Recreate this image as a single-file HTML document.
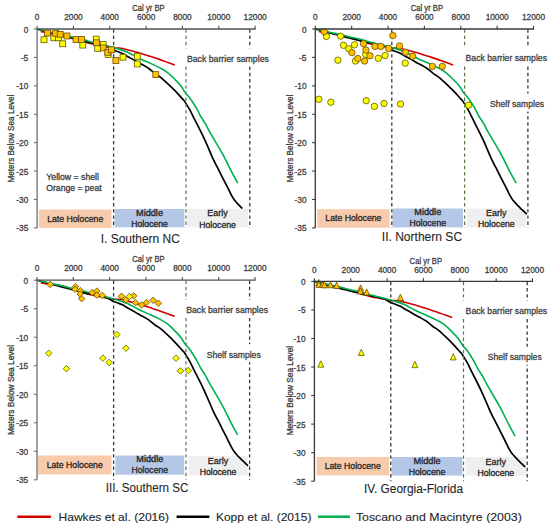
<!DOCTYPE html><html><head><meta charset="utf-8"><style>html,body{margin:0;padding:0;background:#fff;}svg{display:block;}text{font-family:"Liberation Sans", sans-serif;}</style></head><body>
<svg width="550" height="529" viewBox="0 0 550 529">
<rect width="550" height="529" fill="#fff"/>
<rect x="38.90" y="209.50" width="72.60" height="18.50" fill="#f8cbad"/>
<rect x="114.60" y="209.00" width="69.80" height="18.30" fill="#b4c7e7"/>
<rect x="187.20" y="208.80" width="60.80" height="18.50" fill="#efefef"/>
<path d="M40.73,31.56 C42.25,31.79 46.37,32.48 49.82,32.98 C53.26,33.48 57.76,33.81 61.39,34.57 C65.02,35.33 68.53,36.61 71.62,37.52 C74.70,38.44 77.71,39.35 79.88,40.08 C82.06,40.81 82.36,41.20 84.68,41.90 C86.99,42.60 90.75,43.62 93.78,44.29 C96.81,44.95 100.21,45.35 102.86,45.88 C105.51,46.41 108.22,47.13 109.68,47.47 C111.13,47.81 110.66,47.84 111.58,47.92 C112.51,48.01 114.10,47.97 115.22,47.98 C116.34,47.99 117.06,47.90 118.31,47.98 C119.55,48.06 121.21,48.15 122.66,48.44 C124.12,48.72 125.39,49.25 127.03,49.69 C128.66,50.12 130.66,50.57 132.47,51.05 C134.29,51.53 136.26,52.09 137.93,52.58 C139.59,53.08 140.50,53.39 142.47,54.00 C144.43,54.62 147.01,55.43 149.73,56.28 C152.46,57.13 155.79,58.08 158.82,59.12 C161.84,60.16 165.24,61.54 167.90,62.53 C170.56,63.51 173.65,64.61 174.80,65.03" fill="none" stroke="#d40000" stroke-width="1.6" stroke-linejoin="round"/>
<path d="M37.10,29.00 C39.22,29.57 45.72,31.30 49.82,32.41 C53.91,33.52 58.19,34.72 61.68,35.65 C65.17,36.58 67.75,37.21 70.78,37.98 C73.81,38.75 76.41,39.41 79.88,40.25 C83.35,41.10 87.83,42.19 91.60,43.04 C95.37,43.88 99.78,44.69 102.50,45.31 C105.22,45.93 106.59,46.18 107.95,46.73 C109.31,47.28 109.74,48.04 110.68,48.61 C111.61,49.17 112.32,49.62 113.56,50.14 C114.81,50.66 116.67,51.16 118.16,51.73 C119.65,52.30 121.01,52.81 122.48,53.55 C123.96,54.29 125.36,55.24 127.03,56.16 C128.69,57.09 130.66,58.08 132.47,59.12 C134.29,60.16 136.26,61.47 137.93,62.42 C139.59,63.36 140.65,63.79 142.47,64.80 C144.28,65.82 146.71,67.03 148.82,68.50 C150.94,69.96 153.22,72.14 155.18,73.61 C157.15,75.08 158.51,75.60 160.63,77.30 C162.75,79.01 165.48,81.57 167.90,83.84 C170.32,86.11 172.74,88.43 175.17,90.94 C177.59,93.45 180.92,97.24 182.43,98.90 C183.95,100.56 183.04,99.09 184.25,100.89 C185.46,102.69 187.88,106.43 189.70,109.70 C191.52,112.96 192.73,115.66 195.15,120.49 C197.57,125.32 201.21,132.19 204.23,138.68 C207.26,145.17 211.05,154.50 213.32,159.42 C215.59,164.35 216.34,165.25 217.86,168.23 C219.37,171.21 220.89,174.34 222.40,177.32 C223.91,180.31 225.49,183.24 226.94,186.13 C228.39,189.02 229.91,192.38 231.12,194.66 C232.33,196.93 233.24,198.40 234.21,199.77 C235.18,201.14 236.03,201.88 236.93,202.90 C237.84,203.91 238.76,204.92 239.66,205.85 C240.55,206.79 241.87,208.06 242.31,208.51" fill="none" stroke="#000" stroke-width="1.7" stroke-linejoin="round"/>
<path d="M37.10,29.00 C39.22,29.49 45.72,31.03 49.82,31.96 C53.91,32.88 58.19,33.75 61.68,34.57 C65.17,35.38 67.75,36.13 70.78,36.84 C73.81,37.55 77.02,38.15 79.88,38.83 C82.75,39.51 85.65,40.30 87.97,40.93 C90.28,41.57 92.16,42.18 93.78,42.64 C95.40,43.09 96.17,43.30 97.69,43.66 C99.20,44.02 101.35,44.45 102.86,44.80 C104.38,45.15 104.92,45.27 106.77,45.76 C108.62,46.26 111.63,47.11 113.94,47.75 C116.26,48.40 118.49,48.91 120.67,49.63 C122.85,50.35 125.06,51.20 127.03,52.07 C128.99,52.94 130.66,53.92 132.47,54.86 C134.29,55.79 136.26,56.85 137.93,57.70 C139.59,58.55 140.35,59.02 142.47,59.97 C144.59,60.92 147.61,62.01 150.64,63.38 C153.67,64.75 157.76,66.65 160.63,68.21 C163.51,69.77 165.48,70.84 167.90,72.76 C170.32,74.67 173.05,77.56 175.17,79.69 C177.29,81.82 178.86,83.29 180.62,85.54 C182.37,87.80 184.34,91.37 185.70,93.22 C187.07,95.06 187.67,95.21 188.79,96.63 C189.91,98.05 191.06,99.66 192.42,101.74 C193.79,103.82 195.60,106.71 196.97,109.13 C198.33,111.54 199.18,113.77 200.60,116.23 C202.02,118.69 203.99,121.30 205.50,123.90 C207.02,126.51 206.87,126.89 209.68,131.86 C212.50,136.83 218.77,147.11 222.40,153.74 C226.03,160.37 228.94,166.76 231.48,171.64 C234.03,176.52 236.63,181.11 237.66,183.01" fill="none" stroke="#00b050" stroke-width="1.6" stroke-linejoin="round"/>
<line x1="113.60" y1="29.40" x2="113.60" y2="227.90" stroke="#383838" stroke-width="1.30" stroke-dasharray="3.4,2.8"/>
<line x1="186.00" y1="29.40" x2="186.00" y2="227.90" stroke="#587a48" stroke-width="1.20" stroke-dasharray="3.4,2.8"/>
<line x1="249.80" y1="29.40" x2="249.80" y2="227.90" stroke="#383838" stroke-width="1.30" stroke-dasharray="3.4,2.8"/>
<rect x="183.90" y="48.30" width="88.00" height="18" fill="#fff"/>
<text x="186.90" y="61.80" font-size="9.20" fill="#404040" stroke="#404040" stroke-width="0.30" textLength="82.0" lengthAdjust="spacingAndGlyphs">Back barrier samples</text>
<text x="75.20" y="221.75" font-size="8.70" fill="#262626" stroke="#262626" stroke-width="0.30" text-anchor="middle" textLength="56.1" lengthAdjust="spacingAndGlyphs">Late Holocene</text>
<text x="149.50" y="215.80" font-size="8.70" fill="#262626" stroke="#262626" stroke-width="0.30" text-anchor="middle" textLength="27.0" lengthAdjust="spacingAndGlyphs">Middle</text>
<text x="149.50" y="226.80" font-size="8.70" fill="#262626" stroke="#262626" stroke-width="0.30" text-anchor="middle" textLength="36.7" lengthAdjust="spacingAndGlyphs">Holocene</text>
<text x="217.60" y="216.30" font-size="8.70" fill="#262626" stroke="#262626" stroke-width="0.30" text-anchor="middle" textLength="20.5" lengthAdjust="spacingAndGlyphs">Early</text>
<text x="217.60" y="227.50" font-size="8.70" fill="#262626" stroke="#262626" stroke-width="0.30" text-anchor="middle" textLength="36.7" lengthAdjust="spacingAndGlyphs">Holocene</text>
<rect x="41.05" y="36.75" width="5.90" height="5.90" fill="#ffff00" stroke="#5c5c00" stroke-width="0.8"/>
<rect x="50.85" y="34.85" width="5.90" height="5.90" fill="#ffff00" stroke="#5c5c00" stroke-width="0.8"/>
<rect x="55.55" y="34.85" width="5.90" height="5.90" fill="#ffff00" stroke="#5c5c00" stroke-width="0.8"/>
<rect x="59.75" y="40.85" width="5.90" height="5.90" fill="#ffff00" stroke="#5c5c00" stroke-width="0.8"/>
<rect x="79.85" y="42.15" width="5.90" height="5.90" fill="#ffff00" stroke="#5c5c00" stroke-width="0.8"/>
<rect x="93.25" y="36.15" width="5.90" height="5.90" fill="#ffff00" stroke="#5c5c00" stroke-width="0.8"/>
<rect x="94.75" y="45.35" width="5.90" height="5.90" fill="#ffff00" stroke="#5c5c00" stroke-width="0.8"/>
<rect x="100.25" y="41.45" width="5.90" height="5.90" fill="#ffff00" stroke="#5c5c00" stroke-width="0.8"/>
<rect x="105.25" y="51.55" width="5.90" height="5.90" fill="#ffff00" stroke="#5c5c00" stroke-width="0.8"/>
<rect x="120.05" y="54.25" width="5.90" height="5.90" fill="#ffff00" stroke="#5c5c00" stroke-width="0.8"/>
<rect x="134.35" y="53.35" width="5.90" height="5.90" fill="#ffff00" stroke="#5c5c00" stroke-width="0.8"/>
<rect x="134.35" y="61.05" width="5.90" height="5.90" fill="#ffff00" stroke="#5c5c00" stroke-width="0.8"/>
<rect x="44.55" y="30.05" width="5.90" height="5.90" fill="#ffc000" stroke="#6b4c00" stroke-width="0.8"/>
<rect x="52.75" y="30.25" width="5.90" height="5.90" fill="#ffc000" stroke="#6b4c00" stroke-width="0.8"/>
<rect x="57.25" y="31.35" width="5.90" height="5.90" fill="#ffc000" stroke="#6b4c00" stroke-width="0.8"/>
<rect x="63.95" y="33.05" width="5.90" height="5.90" fill="#ffc000" stroke="#6b4c00" stroke-width="0.8"/>
<rect x="73.05" y="36.65" width="5.90" height="5.90" fill="#ffc000" stroke="#6b4c00" stroke-width="0.8"/>
<rect x="78.65" y="36.55" width="5.90" height="5.90" fill="#ffc000" stroke="#6b4c00" stroke-width="0.8"/>
<rect x="93.45" y="39.85" width="5.90" height="5.90" fill="#ffc000" stroke="#6b4c00" stroke-width="0.8"/>
<rect x="100.25" y="44.95" width="5.90" height="5.90" fill="#ffc000" stroke="#6b4c00" stroke-width="0.8"/>
<rect x="104.75" y="49.35" width="5.90" height="5.90" fill="#ffc000" stroke="#6b4c00" stroke-width="0.8"/>
<rect x="108.45" y="46.85" width="5.90" height="5.90" fill="#ffc000" stroke="#6b4c00" stroke-width="0.8"/>
<rect x="112.95" y="57.55" width="5.90" height="5.90" fill="#ffc000" stroke="#6b4c00" stroke-width="0.8"/>
<rect x="152.80" y="71.65" width="5.90" height="5.90" fill="#ffc000" stroke="#6b4c00" stroke-width="0.8"/>
<path d="M37.10,29.00 V227.90" fill="none" stroke="#6e6e6e" stroke-width="1.3"/>
<path d="M36.50,29.00 H255.70" fill="none" stroke="#505050" stroke-width="1.3"/>
<line x1="37.10" y1="29.00" x2="37.10" y2="25.80" stroke="#505050" stroke-width="1.1"/>
<text x="37.10" y="20.10" font-size="9.00" fill="#404040" stroke="#404040" stroke-width="0.30" text-anchor="middle" textLength="4.6" lengthAdjust="spacingAndGlyphs">0</text>
<line x1="73.43" y1="29.00" x2="73.43" y2="25.80" stroke="#505050" stroke-width="1.1"/>
<text x="73.43" y="20.10" font-size="9.00" fill="#404040" stroke="#404040" stroke-width="0.30" text-anchor="middle" textLength="18.4" lengthAdjust="spacingAndGlyphs">2000</text>
<line x1="109.77" y1="29.00" x2="109.77" y2="25.80" stroke="#505050" stroke-width="1.1"/>
<text x="109.77" y="20.10" font-size="9.00" fill="#404040" stroke="#404040" stroke-width="0.30" text-anchor="middle" textLength="18.4" lengthAdjust="spacingAndGlyphs">4000</text>
<line x1="146.10" y1="29.00" x2="146.10" y2="25.80" stroke="#505050" stroke-width="1.1"/>
<text x="146.10" y="20.10" font-size="9.00" fill="#404040" stroke="#404040" stroke-width="0.30" text-anchor="middle" textLength="18.4" lengthAdjust="spacingAndGlyphs">6000</text>
<line x1="182.43" y1="29.00" x2="182.43" y2="25.80" stroke="#505050" stroke-width="1.1"/>
<text x="182.43" y="20.10" font-size="9.00" fill="#404040" stroke="#404040" stroke-width="0.30" text-anchor="middle" textLength="18.4" lengthAdjust="spacingAndGlyphs">8000</text>
<line x1="218.77" y1="29.00" x2="218.77" y2="25.80" stroke="#505050" stroke-width="1.1"/>
<text x="218.77" y="20.10" font-size="9.00" fill="#404040" stroke="#404040" stroke-width="0.30" text-anchor="middle" textLength="23.0" lengthAdjust="spacingAndGlyphs">10000</text>
<line x1="255.10" y1="29.00" x2="255.10" y2="25.80" stroke="#505050" stroke-width="1.1"/>
<text x="255.10" y="20.10" font-size="9.00" fill="#404040" stroke="#404040" stroke-width="0.30" text-anchor="middle" textLength="23.0" lengthAdjust="spacingAndGlyphs">12000</text>
<line x1="33.90" y1="29.00" x2="37.10" y2="29.00" stroke="#6e6e6e" stroke-width="1.1"/>
<text x="28.30" y="32.50" font-size="9.00" fill="#404040" stroke="#404040" stroke-width="0.30" text-anchor="end" textLength="4.6" lengthAdjust="spacingAndGlyphs">0</text>
<line x1="33.90" y1="57.41" x2="37.10" y2="57.41" stroke="#6e6e6e" stroke-width="1.1"/>
<text x="28.30" y="60.91" font-size="9.00" fill="#404040" stroke="#404040" stroke-width="0.30" text-anchor="end" textLength="7.5" lengthAdjust="spacingAndGlyphs">-5</text>
<line x1="33.90" y1="85.83" x2="37.10" y2="85.83" stroke="#6e6e6e" stroke-width="1.1"/>
<text x="28.30" y="89.33" font-size="9.00" fill="#404040" stroke="#404040" stroke-width="0.30" text-anchor="end" textLength="12.0" lengthAdjust="spacingAndGlyphs">-10</text>
<line x1="33.90" y1="114.24" x2="37.10" y2="114.24" stroke="#6e6e6e" stroke-width="1.1"/>
<text x="28.30" y="117.74" font-size="9.00" fill="#404040" stroke="#404040" stroke-width="0.30" text-anchor="end" textLength="12.0" lengthAdjust="spacingAndGlyphs">-15</text>
<line x1="33.90" y1="142.66" x2="37.10" y2="142.66" stroke="#6e6e6e" stroke-width="1.1"/>
<text x="28.30" y="146.16" font-size="9.00" fill="#404040" stroke="#404040" stroke-width="0.30" text-anchor="end" textLength="12.0" lengthAdjust="spacingAndGlyphs">-20</text>
<line x1="33.90" y1="171.07" x2="37.10" y2="171.07" stroke="#6e6e6e" stroke-width="1.1"/>
<text x="28.30" y="174.57" font-size="9.00" fill="#404040" stroke="#404040" stroke-width="0.30" text-anchor="end" textLength="12.0" lengthAdjust="spacingAndGlyphs">-25</text>
<line x1="33.90" y1="199.49" x2="37.10" y2="199.49" stroke="#6e6e6e" stroke-width="1.1"/>
<text x="28.30" y="202.99" font-size="9.00" fill="#404040" stroke="#404040" stroke-width="0.30" text-anchor="end" textLength="12.0" lengthAdjust="spacingAndGlyphs">-30</text>
<line x1="33.90" y1="227.90" x2="37.10" y2="227.90" stroke="#6e6e6e" stroke-width="1.1"/>
<text x="28.30" y="231.40" font-size="9.00" fill="#404040" stroke="#404040" stroke-width="0.30" text-anchor="end" textLength="12.0" lengthAdjust="spacingAndGlyphs">-35</text>
<text x="132.30" y="10.90" font-size="8.80" fill="#404040" stroke="#404040" stroke-width="0.30" textLength="32.4" lengthAdjust="spacingAndGlyphs">Cal yr BP</text>
<text x="0" y="0" font-size="8.3" fill="#404040" stroke="#404040" stroke-width="0.3" text-anchor="middle" textLength="88.0" lengthAdjust="spacingAndGlyphs" transform="translate(14.20,138.60) rotate(-90)">Meters Below Sea Level</text>
<text x="100.70" y="242.90" font-size="12.00" fill="#262626" stroke="#262626" stroke-width="0.10" textLength="79.2" lengthAdjust="spacingAndGlyphs">I. Southern NC</text>
<rect x="317.20" y="209.20" width="72.40" height="18.50" fill="#f8cbad"/>
<rect x="392.50" y="208.50" width="70.50" height="18.90" fill="#b4c7e7"/>
<rect x="466.60" y="208.50" width="59.40" height="18.90" fill="#efefef"/>
<path d="M318.94,31.56 C320.45,31.79 324.58,32.48 328.03,32.98 C331.47,33.48 335.97,33.81 339.61,34.57 C343.25,35.33 346.76,36.61 349.85,37.52 C352.93,38.44 355.94,39.35 358.12,40.08 C360.30,40.81 360.60,41.20 362.92,41.90 C365.24,42.60 369.00,43.62 372.03,44.29 C375.07,44.95 378.47,45.35 381.12,45.88 C383.78,46.41 386.49,47.13 387.94,47.47 C389.40,47.81 388.93,47.84 389.85,47.92 C390.78,48.01 392.37,47.97 393.49,47.98 C394.61,47.99 395.34,47.90 396.58,47.98 C397.82,48.06 399.49,48.15 400.94,48.44 C402.40,48.72 403.67,49.25 405.31,49.69 C406.94,50.12 408.94,50.57 410.76,51.05 C412.58,51.53 414.55,52.09 416.22,52.58 C417.88,53.08 418.79,53.39 420.76,54.00 C422.73,54.62 425.31,55.43 428.04,56.28 C430.76,57.13 434.10,58.08 437.13,59.12 C440.16,60.16 443.55,61.54 446.22,62.53 C448.89,63.51 451.98,64.61 453.13,65.03" fill="none" stroke="#d40000" stroke-width="1.6" stroke-linejoin="round"/>
<path d="M315.30,29.00 C317.42,29.57 323.93,31.30 328.03,32.41 C332.13,33.52 336.40,34.72 339.90,35.65 C343.40,36.58 345.98,37.21 349.01,37.98 C352.05,38.75 354.65,39.41 358.12,40.25 C361.59,41.10 366.08,42.19 369.85,43.04 C373.62,43.88 378.03,44.69 380.76,45.31 C383.49,45.93 384.85,46.18 386.22,46.73 C387.58,47.28 388.01,48.04 388.94,48.61 C389.88,49.17 390.59,49.62 391.83,50.14 C393.08,50.66 394.95,51.16 396.43,51.73 C397.92,52.30 399.28,52.81 400.76,53.55 C402.24,54.29 403.64,55.24 405.31,56.16 C406.97,57.09 408.94,58.08 410.76,59.12 C412.58,60.16 414.55,61.47 416.22,62.42 C417.88,63.36 418.94,63.79 420.76,64.80 C422.58,65.82 425.01,67.03 427.13,68.50 C429.25,69.96 431.52,72.14 433.49,73.61 C435.46,75.08 436.83,75.60 438.95,77.30 C441.07,79.01 443.80,81.57 446.22,83.84 C448.64,86.11 451.07,88.43 453.49,90.94 C455.92,93.45 459.25,97.24 460.77,98.90 C462.28,100.56 461.37,99.09 462.59,100.89 C463.80,102.69 466.22,106.43 468.04,109.70 C469.86,112.96 471.07,115.66 473.50,120.49 C475.92,125.32 479.56,132.19 482.59,138.68 C485.62,145.17 489.41,154.50 491.68,159.42 C493.95,164.35 494.71,165.25 496.22,168.23 C497.74,171.21 499.25,174.34 500.77,177.32 C502.29,180.31 503.86,183.24 505.32,186.13 C506.77,189.02 508.29,192.38 509.50,194.66 C510.71,196.93 511.62,198.40 512.59,199.77 C513.56,201.14 514.41,201.88 515.32,202.90 C516.23,203.91 517.13,204.90 518.04,205.85 C518.95,206.80 519.32,207.19 520.77,208.58 C522.23,209.97 525.77,213.27 526.77,214.20" fill="none" stroke="#000" stroke-width="1.7" stroke-linejoin="round"/>
<path d="M315.30,29.00 C317.42,29.49 323.93,31.03 328.03,31.96 C332.13,32.88 336.40,33.75 339.90,34.57 C343.40,35.38 345.98,36.13 349.01,36.84 C352.05,37.55 355.25,38.15 358.12,38.83 C360.99,39.51 363.89,40.30 366.21,40.93 C368.53,41.57 370.41,42.18 372.03,42.64 C373.65,43.09 374.43,43.30 375.94,43.66 C377.46,44.02 379.61,44.45 381.12,44.80 C382.64,45.15 383.18,45.27 385.03,45.76 C386.88,46.26 389.90,47.11 392.22,47.75 C394.53,48.40 396.76,48.91 398.94,49.63 C401.13,50.35 403.34,51.20 405.31,52.07 C407.28,52.94 408.94,53.92 410.76,54.86 C412.58,55.79 414.55,56.85 416.22,57.70 C417.88,58.55 418.64,59.02 420.76,59.97 C422.88,60.92 425.92,62.01 428.95,63.38 C431.98,64.75 436.07,66.65 438.95,68.21 C441.83,69.77 443.80,70.84 446.22,72.76 C448.64,74.67 451.37,77.56 453.49,79.69 C455.61,81.82 457.19,83.29 458.95,85.54 C460.71,87.80 462.68,91.37 464.04,93.22 C465.40,95.06 466.01,95.21 467.13,96.63 C468.25,98.05 469.40,99.66 470.77,101.74 C472.13,103.82 473.95,106.71 475.31,109.13 C476.68,111.54 477.53,113.77 478.95,116.23 C480.37,118.69 482.34,121.30 483.86,123.90 C485.37,126.51 485.22,126.89 488.04,131.86 C490.86,136.83 497.13,147.11 500.77,153.74 C504.41,160.37 507.32,166.76 509.86,171.64 C512.41,176.52 515.01,181.11 516.04,183.01" fill="none" stroke="#00b050" stroke-width="1.6" stroke-linejoin="round"/>
<line x1="391.80" y1="29.40" x2="391.80" y2="227.90" stroke="#383838" stroke-width="1.30" stroke-dasharray="3.4,2.8"/>
<line x1="464.60" y1="29.40" x2="464.60" y2="227.90" stroke="#587a48" stroke-width="1.20" stroke-dasharray="3.4,2.8"/>
<line x1="527.90" y1="29.40" x2="527.90" y2="227.90" stroke="#383838" stroke-width="1.30" stroke-dasharray="3.4,2.8"/>
<rect x="462.60" y="47.90" width="87.40" height="18" fill="#fff"/>
<text x="465.60" y="61.40" font-size="9.20" fill="#404040" stroke="#404040" stroke-width="0.30" textLength="81.4" lengthAdjust="spacingAndGlyphs">Back barrier samples</text>
<rect x="487.00" y="93.50" width="60.00" height="18" fill="#fff"/>
<text x="490.00" y="107.00" font-size="9.20" fill="#404040" stroke="#404040" stroke-width="0.30" textLength="54.0" lengthAdjust="spacingAndGlyphs">Shelf samples</text>
<text x="353.40" y="221.45" font-size="8.70" fill="#262626" stroke="#262626" stroke-width="0.30" text-anchor="middle" textLength="56.1" lengthAdjust="spacingAndGlyphs">Late Holocene</text>
<text x="427.75" y="215.30" font-size="8.70" fill="#262626" stroke="#262626" stroke-width="0.30" text-anchor="middle" textLength="27.0" lengthAdjust="spacingAndGlyphs">Middle</text>
<text x="427.75" y="226.30" font-size="8.70" fill="#262626" stroke="#262626" stroke-width="0.30" text-anchor="middle" textLength="36.7" lengthAdjust="spacingAndGlyphs">Holocene</text>
<text x="496.30" y="216.00" font-size="8.70" fill="#262626" stroke="#262626" stroke-width="0.30" text-anchor="middle" textLength="20.5" lengthAdjust="spacingAndGlyphs">Early</text>
<text x="496.30" y="227.20" font-size="8.70" fill="#262626" stroke="#262626" stroke-width="0.30" text-anchor="middle" textLength="36.7" lengthAdjust="spacingAndGlyphs">Holocene</text>
<circle cx="326.40" cy="36.40" r="3.2" fill="#ffff00" stroke="#5c5c00" stroke-width="0.8"/>
<circle cx="340.60" cy="36.20" r="3.2" fill="#ffff00" stroke="#5c5c00" stroke-width="0.8"/>
<circle cx="343.50" cy="45.30" r="3.2" fill="#ffff00" stroke="#5c5c00" stroke-width="0.8"/>
<circle cx="348.80" cy="48.80" r="3.2" fill="#ffff00" stroke="#5c5c00" stroke-width="0.8"/>
<circle cx="354.50" cy="44.80" r="3.2" fill="#ffff00" stroke="#5c5c00" stroke-width="0.8"/>
<circle cx="337.90" cy="60.20" r="3.2" fill="#ffff00" stroke="#5c5c00" stroke-width="0.8"/>
<circle cx="355.50" cy="61.00" r="3.2" fill="#ffff00" stroke="#5c5c00" stroke-width="0.8"/>
<circle cx="365.70" cy="54.50" r="3.2" fill="#ffff00" stroke="#5c5c00" stroke-width="0.8"/>
<circle cx="378.30" cy="58.30" r="3.2" fill="#ffff00" stroke="#5c5c00" stroke-width="0.8"/>
<circle cx="385.10" cy="55.50" r="3.2" fill="#ffff00" stroke="#5c5c00" stroke-width="0.8"/>
<circle cx="405.20" cy="63.20" r="3.2" fill="#ffff00" stroke="#5c5c00" stroke-width="0.8"/>
<circle cx="318.90" cy="99.30" r="3.2" fill="#ffff00" stroke="#5c5c00" stroke-width="0.8"/>
<circle cx="330.90" cy="102.20" r="3.2" fill="#ffff00" stroke="#5c5c00" stroke-width="0.8"/>
<circle cx="366.20" cy="100.70" r="3.2" fill="#ffff00" stroke="#5c5c00" stroke-width="0.8"/>
<circle cx="374.40" cy="106.40" r="3.2" fill="#ffff00" stroke="#5c5c00" stroke-width="0.8"/>
<circle cx="384.00" cy="103.50" r="3.2" fill="#ffff00" stroke="#5c5c00" stroke-width="0.8"/>
<circle cx="400.50" cy="104.00" r="3.2" fill="#ffff00" stroke="#5c5c00" stroke-width="0.8"/>
<circle cx="468.50" cy="105.20" r="3.2" fill="#ffff00" stroke="#5c5c00" stroke-width="0.8"/>
<circle cx="324.20" cy="31.60" r="3.2" fill="#ffc000" stroke="#6b4c00" stroke-width="0.8"/>
<circle cx="351.90" cy="52.60" r="3.2" fill="#ffc000" stroke="#6b4c00" stroke-width="0.8"/>
<circle cx="363.60" cy="43.80" r="3.2" fill="#ffc000" stroke="#6b4c00" stroke-width="0.8"/>
<circle cx="365.90" cy="50.10" r="3.2" fill="#ffc000" stroke="#6b4c00" stroke-width="0.8"/>
<circle cx="370.00" cy="55.80" r="3.2" fill="#ffc000" stroke="#6b4c00" stroke-width="0.8"/>
<circle cx="357.80" cy="58.50" r="3.2" fill="#ffc000" stroke="#6b4c00" stroke-width="0.8"/>
<circle cx="364.60" cy="61.00" r="3.2" fill="#ffc000" stroke="#6b4c00" stroke-width="0.8"/>
<circle cx="375.00" cy="46.40" r="3.2" fill="#ffc000" stroke="#6b4c00" stroke-width="0.8"/>
<circle cx="380.80" cy="46.40" r="3.2" fill="#ffc000" stroke="#6b4c00" stroke-width="0.8"/>
<circle cx="388.60" cy="48.40" r="3.2" fill="#ffc000" stroke="#6b4c00" stroke-width="0.8"/>
<circle cx="392.90" cy="35.60" r="3.2" fill="#ffc000" stroke="#6b4c00" stroke-width="0.8"/>
<circle cx="399.50" cy="45.90" r="3.2" fill="#ffc000" stroke="#6b4c00" stroke-width="0.8"/>
<circle cx="405.50" cy="52.30" r="3.2" fill="#ffc000" stroke="#6b4c00" stroke-width="0.8"/>
<circle cx="412.70" cy="56.20" r="3.2" fill="#ffc000" stroke="#6b4c00" stroke-width="0.8"/>
<circle cx="432.40" cy="66.40" r="3.2" fill="#ffc000" stroke="#6b4c00" stroke-width="0.8"/>
<circle cx="442.30" cy="66.40" r="3.2" fill="#ffc000" stroke="#6b4c00" stroke-width="0.8"/>
<path d="M315.30,29.00 V227.90" fill="none" stroke="#3a3a3a" stroke-width="1.3"/>
<path d="M314.70,29.00 H534.10" fill="none" stroke="#3a3a3a" stroke-width="1.3"/>
<line x1="315.30" y1="29.00" x2="315.30" y2="25.80" stroke="#3a3a3a" stroke-width="1.1"/>
<text x="315.30" y="20.10" font-size="9.00" fill="#404040" stroke="#404040" stroke-width="0.30" text-anchor="middle" textLength="4.6" lengthAdjust="spacingAndGlyphs">0</text>
<line x1="351.67" y1="29.00" x2="351.67" y2="25.80" stroke="#3a3a3a" stroke-width="1.1"/>
<text x="351.67" y="20.10" font-size="9.00" fill="#404040" stroke="#404040" stroke-width="0.30" text-anchor="middle" textLength="18.4" lengthAdjust="spacingAndGlyphs">2000</text>
<line x1="388.03" y1="29.00" x2="388.03" y2="25.80" stroke="#3a3a3a" stroke-width="1.1"/>
<text x="388.03" y="20.10" font-size="9.00" fill="#404040" stroke="#404040" stroke-width="0.30" text-anchor="middle" textLength="18.4" lengthAdjust="spacingAndGlyphs">4000</text>
<line x1="424.40" y1="29.00" x2="424.40" y2="25.80" stroke="#3a3a3a" stroke-width="1.1"/>
<text x="424.40" y="20.10" font-size="9.00" fill="#404040" stroke="#404040" stroke-width="0.30" text-anchor="middle" textLength="18.4" lengthAdjust="spacingAndGlyphs">6000</text>
<line x1="460.77" y1="29.00" x2="460.77" y2="25.80" stroke="#3a3a3a" stroke-width="1.1"/>
<text x="460.77" y="20.10" font-size="9.00" fill="#404040" stroke="#404040" stroke-width="0.30" text-anchor="middle" textLength="18.4" lengthAdjust="spacingAndGlyphs">8000</text>
<line x1="497.13" y1="29.00" x2="497.13" y2="25.80" stroke="#3a3a3a" stroke-width="1.1"/>
<text x="497.13" y="20.10" font-size="9.00" fill="#404040" stroke="#404040" stroke-width="0.30" text-anchor="middle" textLength="23.0" lengthAdjust="spacingAndGlyphs">10000</text>
<line x1="533.50" y1="29.00" x2="533.50" y2="25.80" stroke="#3a3a3a" stroke-width="1.1"/>
<text x="533.50" y="20.10" font-size="9.00" fill="#404040" stroke="#404040" stroke-width="0.30" text-anchor="middle" textLength="23.0" lengthAdjust="spacingAndGlyphs">12000</text>
<line x1="312.10" y1="29.00" x2="315.30" y2="29.00" stroke="#3a3a3a" stroke-width="1.1"/>
<text x="306.50" y="32.50" font-size="9.00" fill="#404040" stroke="#404040" stroke-width="0.30" text-anchor="end" textLength="4.6" lengthAdjust="spacingAndGlyphs">0</text>
<line x1="312.10" y1="57.41" x2="315.30" y2="57.41" stroke="#3a3a3a" stroke-width="1.1"/>
<text x="306.50" y="60.91" font-size="9.00" fill="#404040" stroke="#404040" stroke-width="0.30" text-anchor="end" textLength="7.5" lengthAdjust="spacingAndGlyphs">-5</text>
<line x1="312.10" y1="85.83" x2="315.30" y2="85.83" stroke="#3a3a3a" stroke-width="1.1"/>
<text x="306.50" y="89.33" font-size="9.00" fill="#404040" stroke="#404040" stroke-width="0.30" text-anchor="end" textLength="12.0" lengthAdjust="spacingAndGlyphs">-10</text>
<line x1="312.10" y1="114.24" x2="315.30" y2="114.24" stroke="#3a3a3a" stroke-width="1.1"/>
<text x="306.50" y="117.74" font-size="9.00" fill="#404040" stroke="#404040" stroke-width="0.30" text-anchor="end" textLength="12.0" lengthAdjust="spacingAndGlyphs">-15</text>
<line x1="312.10" y1="142.66" x2="315.30" y2="142.66" stroke="#3a3a3a" stroke-width="1.1"/>
<text x="306.50" y="146.16" font-size="9.00" fill="#404040" stroke="#404040" stroke-width="0.30" text-anchor="end" textLength="12.0" lengthAdjust="spacingAndGlyphs">-20</text>
<line x1="312.10" y1="171.07" x2="315.30" y2="171.07" stroke="#3a3a3a" stroke-width="1.1"/>
<text x="306.50" y="174.57" font-size="9.00" fill="#404040" stroke="#404040" stroke-width="0.30" text-anchor="end" textLength="12.0" lengthAdjust="spacingAndGlyphs">-25</text>
<line x1="312.10" y1="199.49" x2="315.30" y2="199.49" stroke="#3a3a3a" stroke-width="1.1"/>
<text x="306.50" y="202.99" font-size="9.00" fill="#404040" stroke="#404040" stroke-width="0.30" text-anchor="end" textLength="12.0" lengthAdjust="spacingAndGlyphs">-30</text>
<line x1="312.10" y1="227.90" x2="315.30" y2="227.90" stroke="#3a3a3a" stroke-width="1.1"/>
<text x="306.50" y="231.40" font-size="9.00" fill="#404040" stroke="#404040" stroke-width="0.30" text-anchor="end" textLength="12.0" lengthAdjust="spacingAndGlyphs">-35</text>
<text x="410.70" y="11.30" font-size="8.80" fill="#404040" stroke="#404040" stroke-width="0.30" textLength="32.4" lengthAdjust="spacingAndGlyphs">Cal yr BP</text>
<text x="0" y="0" font-size="8.3" fill="#404040" stroke="#404040" stroke-width="0.3" text-anchor="middle" textLength="88.0" lengthAdjust="spacingAndGlyphs" transform="translate(293.20,138.60) rotate(-90)">Meters Below Sea Level</text>
<text x="381.80" y="241.40" font-size="12.00" fill="#262626" stroke="#262626" stroke-width="0.10" textLength="80.3" lengthAdjust="spacingAndGlyphs">II. Northern SC</text>
<rect x="38.00" y="455.50" width="73.50" height="18.90" fill="#f8cbad"/>
<rect x="115.40" y="455.50" width="68.80" height="19.20" fill="#b4c7e7"/>
<rect x="188.40" y="456.00" width="59.20" height="19.50" fill="#efefef"/>
<path d="M40.63,282.77 C42.15,283.00 46.27,283.69 49.72,284.19 C53.16,284.70 57.66,285.03 61.29,285.79 C64.92,286.55 68.43,287.83 71.52,288.75 C74.60,289.68 77.61,290.59 79.78,291.32 C81.96,292.05 82.26,292.44 84.58,293.15 C86.89,293.85 90.65,294.88 93.68,295.54 C96.71,296.21 100.11,296.61 102.76,297.14 C105.41,297.67 108.12,298.39 109.58,298.73 C111.03,299.08 110.56,299.10 111.48,299.19 C112.41,299.28 114.00,299.24 115.12,299.25 C116.24,299.26 116.96,299.17 118.20,299.25 C119.45,299.32 121.11,299.42 122.56,299.70 C124.02,299.99 125.29,300.52 126.92,300.96 C128.56,301.40 130.56,301.84 132.38,302.33 C134.19,302.81 136.16,303.37 137.82,303.87 C139.49,304.36 140.40,304.67 142.37,305.29 C144.33,305.91 146.91,306.72 149.63,307.57 C152.36,308.43 155.69,309.38 158.72,310.43 C161.74,311.47 165.14,312.86 167.80,313.85 C170.46,314.84 173.55,315.94 174.70,316.36" fill="none" stroke="#d40000" stroke-width="1.6" stroke-linejoin="round"/>
<path d="M37.00,280.20 C39.12,280.77 45.62,282.51 49.72,283.62 C53.81,284.73 58.09,285.94 61.58,286.87 C65.07,287.80 67.65,288.44 70.68,289.21 C73.71,289.98 76.31,290.65 79.78,291.49 C83.25,292.34 87.73,293.44 91.50,294.29 C95.27,295.13 99.68,295.95 102.40,296.57 C105.12,297.19 106.49,297.44 107.85,297.99 C109.21,298.54 109.64,299.30 110.58,299.87 C111.51,300.45 112.22,300.89 113.46,301.41 C114.71,301.94 116.57,302.44 118.06,303.01 C119.55,303.58 120.91,304.09 122.38,304.84 C123.86,305.58 125.26,306.53 126.92,307.46 C128.59,308.39 130.56,309.38 132.38,310.43 C134.19,311.47 136.16,312.78 137.82,313.73 C139.49,314.68 140.55,315.11 142.37,316.13 C144.18,317.15 146.61,318.36 148.72,319.83 C150.84,321.31 153.12,323.49 155.08,324.97 C157.05,326.44 158.41,326.96 160.53,328.67 C162.65,330.39 165.38,332.95 167.80,335.23 C170.22,337.51 172.64,339.84 175.07,342.36 C177.49,344.88 180.82,348.68 182.33,350.35 C183.85,352.01 182.94,350.54 184.15,352.34 C185.36,354.15 187.78,357.90 189.60,361.18 C191.42,364.46 192.63,367.17 195.05,372.02 C197.47,376.86 201.11,383.75 204.13,390.27 C207.16,396.78 210.95,406.14 213.22,411.08 C215.49,416.02 216.24,416.93 217.76,419.92 C219.27,422.91 220.79,426.05 222.30,429.04 C223.81,432.04 225.39,434.99 226.84,437.88 C228.30,440.78 229.81,444.16 231.02,446.44 C232.23,448.72 233.14,450.19 234.11,451.57 C235.08,452.95 235.93,453.69 236.83,454.71 C237.74,455.72 238.65,456.72 239.56,457.67 C240.47,458.62 240.88,459.06 242.28,460.41 C243.69,461.76 247.05,464.90 248.01,465.80" fill="none" stroke="#000" stroke-width="1.7" stroke-linejoin="round"/>
<path d="M37.00,280.20 C39.12,280.69 45.62,282.23 49.72,283.17 C53.81,284.10 58.09,284.97 61.58,285.79 C65.07,286.61 67.65,287.36 70.68,288.07 C73.71,288.78 76.92,289.38 79.78,290.07 C82.65,290.75 85.55,291.54 87.87,292.18 C90.18,292.81 92.06,293.43 93.68,293.89 C95.30,294.34 96.07,294.55 97.59,294.91 C99.10,295.27 101.25,295.70 102.76,296.05 C104.28,296.41 104.82,296.53 106.67,297.02 C108.52,297.52 111.53,298.37 113.84,299.02 C116.16,299.67 118.39,300.18 120.57,300.90 C122.75,301.62 124.96,302.48 126.92,303.35 C128.89,304.23 130.56,305.21 132.38,306.15 C134.19,307.09 136.16,308.14 137.82,309.00 C139.49,309.85 140.25,310.33 142.37,311.28 C144.49,312.23 147.51,313.32 150.54,314.70 C153.57,316.08 157.66,317.98 160.53,319.55 C163.41,321.12 165.38,322.19 167.80,324.11 C170.22,326.03 172.95,328.93 175.07,331.07 C177.19,333.21 178.76,334.68 180.52,336.94 C182.27,339.21 184.24,342.79 185.60,344.64 C186.97,346.50 187.57,346.64 188.69,348.06 C189.81,349.49 190.96,351.11 192.32,353.20 C193.69,355.29 195.50,358.19 196.87,360.61 C198.23,363.03 199.08,365.27 200.50,367.74 C201.92,370.21 203.89,372.82 205.41,375.44 C206.92,378.05 206.77,378.43 209.58,383.42 C212.40,388.41 218.67,398.72 222.30,405.38 C225.93,412.03 228.84,418.45 231.38,423.34 C233.93,428.24 236.53,432.85 237.56,434.75" fill="none" stroke="#00b050" stroke-width="1.6" stroke-linejoin="round"/>
<line x1="113.60" y1="280.60" x2="113.60" y2="479.80" stroke="#383838" stroke-width="1.30" stroke-dasharray="3.4,2.8"/>
<line x1="186.00" y1="280.60" x2="186.00" y2="479.80" stroke="#587a48" stroke-width="1.20" stroke-dasharray="3.4,2.8"/>
<line x1="249.60" y1="280.60" x2="249.60" y2="479.80" stroke="#383838" stroke-width="1.30" stroke-dasharray="3.4,2.8"/>
<rect x="183.20" y="299.80" width="87.80" height="18" fill="#fff"/>
<text x="186.20" y="313.30" font-size="9.20" fill="#404040" stroke="#404040" stroke-width="0.30" textLength="81.8" lengthAdjust="spacingAndGlyphs">Back barrier samples</text>
<rect x="203.70" y="344.10" width="60.00" height="18" fill="#fff"/>
<text x="206.70" y="357.60" font-size="9.20" fill="#404040" stroke="#404040" stroke-width="0.30" textLength="54.0" lengthAdjust="spacingAndGlyphs">Shelf samples</text>
<text x="74.75" y="467.95" font-size="8.70" fill="#262626" stroke="#262626" stroke-width="0.30" text-anchor="middle" textLength="56.1" lengthAdjust="spacingAndGlyphs">Late Holocene</text>
<text x="149.80" y="462.30" font-size="8.70" fill="#262626" stroke="#262626" stroke-width="0.30" text-anchor="middle" textLength="27.0" lengthAdjust="spacingAndGlyphs">Middle</text>
<text x="149.80" y="473.30" font-size="8.70" fill="#262626" stroke="#262626" stroke-width="0.30" text-anchor="middle" textLength="36.7" lengthAdjust="spacingAndGlyphs">Holocene</text>
<text x="218.00" y="463.50" font-size="8.70" fill="#262626" stroke="#262626" stroke-width="0.30" text-anchor="middle" textLength="20.5" lengthAdjust="spacingAndGlyphs">Early</text>
<text x="218.00" y="474.70" font-size="8.70" fill="#262626" stroke="#262626" stroke-width="0.30" text-anchor="middle" textLength="36.7" lengthAdjust="spacingAndGlyphs">Holocene</text>
<path d="M50.20,281.15 L53.45,284.40 L50.20,287.65 L46.95,284.40 Z" fill="#ffc000" stroke="#6b4c00" stroke-width="0.8"/>
<path d="M75.50,283.35 L78.75,286.60 L75.50,289.85 L72.25,286.60 Z" fill="#ffc000" stroke="#6b4c00" stroke-width="0.8"/>
<path d="M75.10,286.05 L78.35,289.30 L75.10,292.55 L71.85,289.30 Z" fill="#ffc000" stroke="#6b4c00" stroke-width="0.8"/>
<path d="M80.50,287.45 L83.75,290.70 L80.50,293.95 L77.25,290.70 Z" fill="#ffc000" stroke="#6b4c00" stroke-width="0.8"/>
<path d="M80.20,290.75 L83.45,294.00 L80.20,297.25 L76.95,294.00 Z" fill="#ffc000" stroke="#6b4c00" stroke-width="0.8"/>
<path d="M81.60,295.45 L84.85,298.70 L81.60,301.95 L78.35,298.70 Z" fill="#ffc000" stroke="#6b4c00" stroke-width="0.8"/>
<path d="M92.20,289.25 L95.45,292.50 L92.20,295.75 L88.95,292.50 Z" fill="#ffc000" stroke="#6b4c00" stroke-width="0.8"/>
<path d="M96.90,287.85 L100.15,291.10 L96.90,294.35 L93.65,291.10 Z" fill="#ffc000" stroke="#6b4c00" stroke-width="0.8"/>
<path d="M96.90,291.85 L100.15,295.10 L96.90,298.35 L93.65,295.10 Z" fill="#ffc000" stroke="#6b4c00" stroke-width="0.8"/>
<path d="M102.30,292.15 L105.55,295.40 L102.30,298.65 L99.05,295.40 Z" fill="#ffc000" stroke="#6b4c00" stroke-width="0.8"/>
<path d="M121.50,293.05 L124.75,296.30 L121.50,299.55 L118.25,296.30 Z" fill="#ffc000" stroke="#6b4c00" stroke-width="0.8"/>
<path d="M126.00,296.65 L129.25,299.90 L126.00,303.15 L122.75,299.90 Z" fill="#ffc000" stroke="#6b4c00" stroke-width="0.8"/>
<path d="M133.70,292.65 L136.95,295.90 L133.70,299.15 L130.45,295.90 Z" fill="#ffc000" stroke="#6b4c00" stroke-width="0.8"/>
<path d="M135.60,299.45 L138.85,302.70 L135.60,305.95 L132.35,302.70 Z" fill="#ffc000" stroke="#6b4c00" stroke-width="0.8"/>
<path d="M141.50,301.75 L144.75,305.00 L141.50,308.25 L138.25,305.00 Z" fill="#ffc000" stroke="#6b4c00" stroke-width="0.8"/>
<path d="M146.50,299.25 L149.75,302.50 L146.50,305.75 L143.25,302.50 Z" fill="#ffc000" stroke="#6b4c00" stroke-width="0.8"/>
<path d="M153.10,297.05 L156.35,300.30 L153.10,303.55 L149.85,300.30 Z" fill="#ffc000" stroke="#6b4c00" stroke-width="0.8"/>
<path d="M158.30,299.95 L161.55,303.20 L158.30,306.45 L155.05,303.20 Z" fill="#ffc000" stroke="#6b4c00" stroke-width="0.8"/>
<path d="M129.30,293.35 L132.55,296.60 L129.30,299.85 L126.05,296.60 Z" fill="#ffff00" stroke="#5c5c00" stroke-width="0.8"/>
<path d="M48.70,350.05 L51.95,353.30 L48.70,356.55 L45.45,353.30 Z" fill="#ffff00" stroke="#5c5c00" stroke-width="0.8"/>
<path d="M66.40,365.45 L69.65,368.70 L66.40,371.95 L63.15,368.70 Z" fill="#ffff00" stroke="#5c5c00" stroke-width="0.8"/>
<path d="M102.90,354.95 L106.15,358.20 L102.90,361.45 L99.65,358.20 Z" fill="#ffff00" stroke="#5c5c00" stroke-width="0.8"/>
<path d="M109.10,359.15 L112.35,362.40 L109.10,365.65 L105.85,362.40 Z" fill="#ffff00" stroke="#5c5c00" stroke-width="0.8"/>
<path d="M116.90,331.25 L120.15,334.50 L116.90,337.75 L113.65,334.50 Z" fill="#ffff00" stroke="#5c5c00" stroke-width="0.8"/>
<path d="M126.00,344.95 L129.25,348.20 L126.00,351.45 L122.75,348.20 Z" fill="#ffff00" stroke="#5c5c00" stroke-width="0.8"/>
<path d="M176.00,354.95 L179.25,358.20 L176.00,361.45 L172.75,358.20 Z" fill="#ffff00" stroke="#5c5c00" stroke-width="0.8"/>
<path d="M180.40,367.65 L183.65,370.90 L180.40,374.15 L177.15,370.90 Z" fill="#ffff00" stroke="#5c5c00" stroke-width="0.8"/>
<path d="M188.40,367.25 L191.65,370.50 L188.40,373.75 L185.15,370.50 Z" fill="#ffff00" stroke="#5c5c00" stroke-width="0.8"/>
<path d="M37.00,280.20 V479.80" fill="none" stroke="#6e6e6e" stroke-width="1.3"/>
<path d="M36.40,280.20 H255.60" fill="none" stroke="#505050" stroke-width="1.3"/>
<line x1="37.00" y1="280.20" x2="37.00" y2="277.00" stroke="#505050" stroke-width="1.1"/>
<text x="37.00" y="271.30" font-size="9.00" fill="#404040" stroke="#404040" stroke-width="0.30" text-anchor="middle" textLength="4.6" lengthAdjust="spacingAndGlyphs">0</text>
<line x1="73.33" y1="280.20" x2="73.33" y2="277.00" stroke="#505050" stroke-width="1.1"/>
<text x="73.33" y="271.30" font-size="9.00" fill="#404040" stroke="#404040" stroke-width="0.30" text-anchor="middle" textLength="18.4" lengthAdjust="spacingAndGlyphs">2000</text>
<line x1="109.67" y1="280.20" x2="109.67" y2="277.00" stroke="#505050" stroke-width="1.1"/>
<text x="109.67" y="271.30" font-size="9.00" fill="#404040" stroke="#404040" stroke-width="0.30" text-anchor="middle" textLength="18.4" lengthAdjust="spacingAndGlyphs">4000</text>
<line x1="146.00" y1="280.20" x2="146.00" y2="277.00" stroke="#505050" stroke-width="1.1"/>
<text x="146.00" y="271.30" font-size="9.00" fill="#404040" stroke="#404040" stroke-width="0.30" text-anchor="middle" textLength="18.4" lengthAdjust="spacingAndGlyphs">6000</text>
<line x1="182.33" y1="280.20" x2="182.33" y2="277.00" stroke="#505050" stroke-width="1.1"/>
<text x="182.33" y="271.30" font-size="9.00" fill="#404040" stroke="#404040" stroke-width="0.30" text-anchor="middle" textLength="18.4" lengthAdjust="spacingAndGlyphs">8000</text>
<line x1="218.67" y1="280.20" x2="218.67" y2="277.00" stroke="#505050" stroke-width="1.1"/>
<text x="218.67" y="271.30" font-size="9.00" fill="#404040" stroke="#404040" stroke-width="0.30" text-anchor="middle" textLength="23.0" lengthAdjust="spacingAndGlyphs">10000</text>
<line x1="255.00" y1="280.20" x2="255.00" y2="277.00" stroke="#505050" stroke-width="1.1"/>
<text x="255.00" y="271.30" font-size="9.00" fill="#404040" stroke="#404040" stroke-width="0.30" text-anchor="middle" textLength="23.0" lengthAdjust="spacingAndGlyphs">12000</text>
<line x1="33.80" y1="280.20" x2="37.00" y2="280.20" stroke="#6e6e6e" stroke-width="1.1"/>
<text x="28.20" y="283.70" font-size="9.00" fill="#404040" stroke="#404040" stroke-width="0.30" text-anchor="end" textLength="4.6" lengthAdjust="spacingAndGlyphs">0</text>
<line x1="33.80" y1="308.71" x2="37.00" y2="308.71" stroke="#6e6e6e" stroke-width="1.1"/>
<text x="28.20" y="312.21" font-size="9.00" fill="#404040" stroke="#404040" stroke-width="0.30" text-anchor="end" textLength="7.5" lengthAdjust="spacingAndGlyphs">-5</text>
<line x1="33.80" y1="337.23" x2="37.00" y2="337.23" stroke="#6e6e6e" stroke-width="1.1"/>
<text x="28.20" y="340.73" font-size="9.00" fill="#404040" stroke="#404040" stroke-width="0.30" text-anchor="end" textLength="12.0" lengthAdjust="spacingAndGlyphs">-10</text>
<line x1="33.80" y1="365.74" x2="37.00" y2="365.74" stroke="#6e6e6e" stroke-width="1.1"/>
<text x="28.20" y="369.24" font-size="9.00" fill="#404040" stroke="#404040" stroke-width="0.30" text-anchor="end" textLength="12.0" lengthAdjust="spacingAndGlyphs">-15</text>
<line x1="33.80" y1="394.26" x2="37.00" y2="394.26" stroke="#6e6e6e" stroke-width="1.1"/>
<text x="28.20" y="397.76" font-size="9.00" fill="#404040" stroke="#404040" stroke-width="0.30" text-anchor="end" textLength="12.0" lengthAdjust="spacingAndGlyphs">-20</text>
<line x1="33.80" y1="422.77" x2="37.00" y2="422.77" stroke="#6e6e6e" stroke-width="1.1"/>
<text x="28.20" y="426.27" font-size="9.00" fill="#404040" stroke="#404040" stroke-width="0.30" text-anchor="end" textLength="12.0" lengthAdjust="spacingAndGlyphs">-25</text>
<line x1="33.80" y1="451.29" x2="37.00" y2="451.29" stroke="#6e6e6e" stroke-width="1.1"/>
<text x="28.20" y="454.79" font-size="9.00" fill="#404040" stroke="#404040" stroke-width="0.30" text-anchor="end" textLength="12.0" lengthAdjust="spacingAndGlyphs">-30</text>
<line x1="33.80" y1="479.80" x2="37.00" y2="479.80" stroke="#6e6e6e" stroke-width="1.1"/>
<text x="28.20" y="483.30" font-size="9.00" fill="#404040" stroke="#404040" stroke-width="0.30" text-anchor="end" textLength="12.0" lengthAdjust="spacingAndGlyphs">-35</text>
<text x="132.30" y="262.40" font-size="8.80" fill="#404040" stroke="#404040" stroke-width="0.30" textLength="32.4" lengthAdjust="spacingAndGlyphs">Cal yr BP</text>
<text x="0" y="0" font-size="8.3" fill="#404040" stroke="#404040" stroke-width="0.3" text-anchor="middle" textLength="90.0" lengthAdjust="spacingAndGlyphs" transform="translate(14.40,390.00) rotate(-90)">Meters Below Sea Level</text>
<text x="105.70" y="491.80" font-size="12.00" fill="#262626" stroke="#262626" stroke-width="0.10" textLength="82.7" lengthAdjust="spacingAndGlyphs">III. Southern SC</text>
<rect x="316.50" y="457.00" width="72.50" height="18.50" fill="#f8cbad"/>
<rect x="391.80" y="457.00" width="70.50" height="18.60" fill="#b4c7e7"/>
<rect x="465.60" y="457.00" width="60.40" height="18.60" fill="#efefef"/>
<path d="M318.03,283.97 C319.55,284.21 323.68,284.89 327.12,285.40 C330.57,285.90 335.06,286.23 338.70,286.99 C342.33,287.76 345.85,289.04 348.93,289.96 C352.02,290.89 355.02,291.80 357.20,292.53 C359.38,293.26 359.68,293.65 362.00,294.36 C364.32,295.06 368.07,296.09 371.11,296.76 C374.14,297.42 377.54,297.82 380.19,298.35 C382.84,298.89 385.56,299.61 387.01,299.95 C388.46,300.30 387.99,300.32 388.92,300.41 C389.84,300.50 391.43,300.46 392.55,300.47 C393.67,300.48 394.40,300.39 395.64,300.47 C396.88,300.54 398.55,300.64 400.00,300.92 C401.46,301.21 402.73,301.74 404.37,302.18 C406.00,302.62 408.00,303.06 409.82,303.55 C411.64,304.03 413.61,304.60 415.27,305.09 C416.94,305.59 417.85,305.90 419.81,306.52 C421.78,307.14 424.36,307.94 427.08,308.80 C429.81,309.66 433.14,310.61 436.17,311.66 C439.20,312.70 442.59,314.09 445.26,315.08 C447.93,316.07 451.02,317.17 452.17,317.59" fill="none" stroke="#d40000" stroke-width="1.6" stroke-linejoin="round"/>
<path d="M314.40,281.40 C316.52,281.97 323.02,283.71 327.12,284.83 C331.22,285.94 335.50,287.15 338.99,288.08 C342.49,289.01 345.06,289.65 348.10,290.42 C351.13,291.19 353.73,291.86 357.20,292.70 C360.67,293.55 365.15,294.65 368.93,295.50 C372.70,296.35 377.10,297.17 379.83,297.78 C382.56,298.40 383.92,298.66 385.28,299.21 C386.65,299.76 387.07,300.52 388.01,301.09 C388.94,301.67 389.65,302.11 390.90,302.64 C392.15,303.16 394.01,303.66 395.50,304.23 C396.98,304.81 398.34,305.32 399.82,306.06 C401.30,306.80 402.70,307.75 404.37,308.69 C406.03,309.62 408.00,310.61 409.82,311.66 C411.64,312.70 413.61,314.01 415.27,314.97 C416.94,315.92 418.00,316.35 419.81,317.36 C421.63,318.38 424.06,319.60 426.18,321.07 C428.30,322.55 430.57,324.74 432.54,326.21 C434.51,327.69 435.87,328.21 437.99,329.92 C440.11,331.64 442.84,334.20 445.26,336.49 C447.68,338.77 450.11,341.10 452.53,343.62 C454.95,346.14 458.29,349.95 459.80,351.62 C461.31,353.28 460.41,351.81 461.62,353.61 C462.83,355.42 465.25,359.18 467.07,362.46 C468.89,365.74 470.10,368.46 472.52,373.31 C474.95,378.16 478.58,385.06 481.61,391.58 C484.64,398.09 488.43,407.46 490.70,412.41 C492.97,417.36 493.73,418.26 495.24,421.26 C496.76,424.26 498.27,427.40 499.78,430.39 C501.30,433.39 502.87,436.34 504.33,439.24 C505.78,442.14 507.30,445.52 508.51,447.80 C509.72,450.09 510.63,451.56 511.60,452.94 C512.57,454.32 513.42,455.06 514.33,456.08 C515.23,457.10 516.14,458.10 517.05,459.05 C517.96,460.00 518.40,460.47 519.78,461.79 C521.15,463.12 524.38,466.13 525.30,467.00" fill="none" stroke="#000" stroke-width="1.7" stroke-linejoin="round"/>
<path d="M314.40,281.40 C316.52,281.89 323.02,283.44 327.12,284.37 C331.22,285.30 335.50,286.18 338.99,286.99 C342.49,287.81 345.06,288.56 348.10,289.28 C351.13,289.99 354.34,290.59 357.20,291.28 C360.07,291.96 362.97,292.75 365.29,293.39 C367.61,294.03 369.49,294.64 371.11,295.10 C372.73,295.56 373.50,295.77 375.01,296.13 C376.53,296.49 378.68,296.92 380.19,297.27 C381.71,297.62 382.25,297.75 384.10,298.24 C385.95,298.74 388.96,299.59 391.28,300.24 C393.60,300.89 395.82,301.40 398.00,302.12 C400.19,302.85 402.40,303.70 404.37,304.58 C406.34,305.45 408.00,306.43 409.82,307.37 C411.64,308.32 413.61,309.37 415.27,310.23 C416.94,311.08 417.69,311.56 419.81,312.51 C421.94,313.46 424.96,314.56 427.99,315.94 C431.02,317.32 435.11,319.22 437.99,320.79 C440.87,322.36 442.84,323.43 445.26,325.36 C447.68,327.28 450.41,330.18 452.53,332.32 C454.65,334.46 456.23,335.94 457.98,338.20 C459.74,340.46 461.71,344.05 463.07,345.91 C464.43,347.76 465.04,347.90 466.16,349.33 C467.28,350.76 468.43,352.38 469.80,354.47 C471.16,356.56 472.98,359.46 474.34,361.89 C475.70,364.32 476.55,366.55 477.98,369.03 C479.40,371.50 481.37,374.12 482.88,376.73 C484.40,379.35 484.25,379.73 487.06,384.73 C489.88,389.72 496.15,400.04 499.78,406.70 C503.42,413.36 506.33,419.79 508.87,424.69 C511.42,429.59 514.02,434.20 515.05,436.10" fill="none" stroke="#00b050" stroke-width="1.6" stroke-linejoin="round"/>
<line x1="390.80" y1="281.80" x2="390.80" y2="481.20" stroke="#383838" stroke-width="1.30" stroke-dasharray="3.4,2.8"/>
<line x1="463.50" y1="281.80" x2="463.50" y2="481.20" stroke="#587a48" stroke-width="1.20" stroke-dasharray="3.4,2.8"/>
<line x1="527.20" y1="281.80" x2="527.20" y2="481.20" stroke="#383838" stroke-width="1.30" stroke-dasharray="3.4,2.8"/>
<rect x="462.60" y="300.90" width="87.60" height="18" fill="#fff"/>
<text x="465.60" y="314.40" font-size="9.20" fill="#404040" stroke="#404040" stroke-width="0.30" textLength="81.6" lengthAdjust="spacingAndGlyphs">Back barrier samples</text>
<rect x="484.80" y="346.80" width="59.90" height="18" fill="#fff"/>
<text x="487.80" y="360.30" font-size="9.20" fill="#404040" stroke="#404040" stroke-width="0.30" textLength="53.9" lengthAdjust="spacingAndGlyphs">Shelf samples</text>
<text x="352.75" y="469.25" font-size="8.70" fill="#262626" stroke="#262626" stroke-width="0.30" text-anchor="middle" textLength="56.1" lengthAdjust="spacingAndGlyphs">Late Holocene</text>
<text x="427.05" y="463.80" font-size="8.70" fill="#262626" stroke="#262626" stroke-width="0.30" text-anchor="middle" textLength="27.0" lengthAdjust="spacingAndGlyphs">Middle</text>
<text x="427.05" y="474.80" font-size="8.70" fill="#262626" stroke="#262626" stroke-width="0.30" text-anchor="middle" textLength="36.7" lengthAdjust="spacingAndGlyphs">Holocene</text>
<text x="495.80" y="464.50" font-size="8.70" fill="#262626" stroke="#262626" stroke-width="0.30" text-anchor="middle" textLength="20.5" lengthAdjust="spacingAndGlyphs">Early</text>
<text x="495.80" y="475.70" font-size="8.70" fill="#262626" stroke="#262626" stroke-width="0.30" text-anchor="middle" textLength="36.7" lengthAdjust="spacingAndGlyphs">Holocene</text>
<path d="M318.70,279.45 L321.65,285.75 L315.75,285.75 Z" fill="#ffc000" stroke="#6b4c00" stroke-width="0.8" stroke-linejoin="round"/>
<path d="M318.90,281.05 L321.85,287.35 L315.95,287.35 Z" fill="#ffc000" stroke="#6b4c00" stroke-width="0.8" stroke-linejoin="round"/>
<path d="M322.50,281.15 L325.45,287.45 L319.55,287.45 Z" fill="#ffc000" stroke="#6b4c00" stroke-width="0.8" stroke-linejoin="round"/>
<path d="M324.40,281.55 L327.35,287.85 L321.45,287.85 Z" fill="#ffc000" stroke="#6b4c00" stroke-width="0.8" stroke-linejoin="round"/>
<path d="M330.50,281.45 L333.45,287.75 L327.55,287.75 Z" fill="#ffc000" stroke="#6b4c00" stroke-width="0.8" stroke-linejoin="round"/>
<path d="M336.60,282.25 L339.55,288.55 L333.65,288.55 Z" fill="#ffc000" stroke="#6b4c00" stroke-width="0.8" stroke-linejoin="round"/>
<path d="M360.60,284.85 L363.55,291.15 L357.65,291.15 Z" fill="#ffc000" stroke="#6b4c00" stroke-width="0.8" stroke-linejoin="round"/>
<path d="M360.40,287.75 L363.35,294.05 L357.45,294.05 Z" fill="#ffc000" stroke="#6b4c00" stroke-width="0.8" stroke-linejoin="round"/>
<path d="M366.60,288.85 L369.55,295.15 L363.65,295.15 Z" fill="#ffc000" stroke="#6b4c00" stroke-width="0.8" stroke-linejoin="round"/>
<path d="M400.40,294.25 L403.35,300.55 L397.45,300.55 Z" fill="#ffc000" stroke="#6b4c00" stroke-width="0.8" stroke-linejoin="round"/>
<path d="M320.80,360.85 L323.75,367.15 L317.85,367.15 Z" fill="#ffff00" stroke="#5c5c00" stroke-width="0.8" stroke-linejoin="round"/>
<path d="M361.30,349.15 L364.25,355.45 L358.35,355.45 Z" fill="#ffff00" stroke="#5c5c00" stroke-width="0.8" stroke-linejoin="round"/>
<path d="M414.90,361.35 L417.85,367.65 L411.95,367.65 Z" fill="#ffff00" stroke="#5c5c00" stroke-width="0.8" stroke-linejoin="round"/>
<path d="M453.20,353.65 L456.15,359.95 L450.25,359.95 Z" fill="#ffff00" stroke="#5c5c00" stroke-width="0.8" stroke-linejoin="round"/>
<path d="M314.40,281.40 V481.20" fill="none" stroke="#3a3a3a" stroke-width="1.3"/>
<path d="M313.80,281.40 H533.10" fill="none" stroke="#3a3a3a" stroke-width="1.3"/>
<line x1="314.40" y1="281.40" x2="314.40" y2="278.20" stroke="#3a3a3a" stroke-width="1.1"/>
<text x="314.40" y="272.50" font-size="9.00" fill="#404040" stroke="#404040" stroke-width="0.30" text-anchor="middle" textLength="4.6" lengthAdjust="spacingAndGlyphs">0</text>
<line x1="350.75" y1="281.40" x2="350.75" y2="278.20" stroke="#3a3a3a" stroke-width="1.1"/>
<text x="350.75" y="272.50" font-size="9.00" fill="#404040" stroke="#404040" stroke-width="0.30" text-anchor="middle" textLength="18.4" lengthAdjust="spacingAndGlyphs">2000</text>
<line x1="387.10" y1="281.40" x2="387.10" y2="278.20" stroke="#3a3a3a" stroke-width="1.1"/>
<text x="387.10" y="272.50" font-size="9.00" fill="#404040" stroke="#404040" stroke-width="0.30" text-anchor="middle" textLength="18.4" lengthAdjust="spacingAndGlyphs">4000</text>
<line x1="423.45" y1="281.40" x2="423.45" y2="278.20" stroke="#3a3a3a" stroke-width="1.1"/>
<text x="423.45" y="272.50" font-size="9.00" fill="#404040" stroke="#404040" stroke-width="0.30" text-anchor="middle" textLength="18.4" lengthAdjust="spacingAndGlyphs">6000</text>
<line x1="459.80" y1="281.40" x2="459.80" y2="278.20" stroke="#3a3a3a" stroke-width="1.1"/>
<text x="459.80" y="272.50" font-size="9.00" fill="#404040" stroke="#404040" stroke-width="0.30" text-anchor="middle" textLength="18.4" lengthAdjust="spacingAndGlyphs">8000</text>
<line x1="496.15" y1="281.40" x2="496.15" y2="278.20" stroke="#3a3a3a" stroke-width="1.1"/>
<text x="496.15" y="272.50" font-size="9.00" fill="#404040" stroke="#404040" stroke-width="0.30" text-anchor="middle" textLength="23.0" lengthAdjust="spacingAndGlyphs">10000</text>
<line x1="532.50" y1="281.40" x2="532.50" y2="278.20" stroke="#3a3a3a" stroke-width="1.1"/>
<text x="532.50" y="272.50" font-size="9.00" fill="#404040" stroke="#404040" stroke-width="0.30" text-anchor="middle" textLength="23.0" lengthAdjust="spacingAndGlyphs">12000</text>
<line x1="311.20" y1="281.40" x2="314.40" y2="281.40" stroke="#3a3a3a" stroke-width="1.1"/>
<text x="305.60" y="284.90" font-size="9.00" fill="#404040" stroke="#404040" stroke-width="0.30" text-anchor="end" textLength="4.6" lengthAdjust="spacingAndGlyphs">0</text>
<line x1="311.20" y1="309.94" x2="314.40" y2="309.94" stroke="#3a3a3a" stroke-width="1.1"/>
<text x="305.60" y="313.44" font-size="9.00" fill="#404040" stroke="#404040" stroke-width="0.30" text-anchor="end" textLength="7.5" lengthAdjust="spacingAndGlyphs">-5</text>
<line x1="311.20" y1="338.49" x2="314.40" y2="338.49" stroke="#3a3a3a" stroke-width="1.1"/>
<text x="305.60" y="341.99" font-size="9.00" fill="#404040" stroke="#404040" stroke-width="0.30" text-anchor="end" textLength="12.0" lengthAdjust="spacingAndGlyphs">-10</text>
<line x1="311.20" y1="367.03" x2="314.40" y2="367.03" stroke="#3a3a3a" stroke-width="1.1"/>
<text x="305.60" y="370.53" font-size="9.00" fill="#404040" stroke="#404040" stroke-width="0.30" text-anchor="end" textLength="12.0" lengthAdjust="spacingAndGlyphs">-15</text>
<line x1="311.20" y1="395.57" x2="314.40" y2="395.57" stroke="#3a3a3a" stroke-width="1.1"/>
<text x="305.60" y="399.07" font-size="9.00" fill="#404040" stroke="#404040" stroke-width="0.30" text-anchor="end" textLength="12.0" lengthAdjust="spacingAndGlyphs">-20</text>
<line x1="311.20" y1="424.11" x2="314.40" y2="424.11" stroke="#3a3a3a" stroke-width="1.1"/>
<text x="305.60" y="427.61" font-size="9.00" fill="#404040" stroke="#404040" stroke-width="0.30" text-anchor="end" textLength="12.0" lengthAdjust="spacingAndGlyphs">-25</text>
<line x1="311.20" y1="452.66" x2="314.40" y2="452.66" stroke="#3a3a3a" stroke-width="1.1"/>
<text x="305.60" y="456.16" font-size="9.00" fill="#404040" stroke="#404040" stroke-width="0.30" text-anchor="end" textLength="12.0" lengthAdjust="spacingAndGlyphs">-30</text>
<line x1="311.20" y1="481.20" x2="314.40" y2="481.20" stroke="#3a3a3a" stroke-width="1.1"/>
<text x="305.60" y="484.70" font-size="9.00" fill="#404040" stroke="#404040" stroke-width="0.30" text-anchor="end" textLength="12.0" lengthAdjust="spacingAndGlyphs">-35</text>
<text x="409.60" y="263.80" font-size="8.80" fill="#404040" stroke="#404040" stroke-width="0.30" textLength="32.5" lengthAdjust="spacingAndGlyphs">Cal yr BP</text>
<text x="0" y="0" font-size="8.3" fill="#404040" stroke="#404040" stroke-width="0.3" text-anchor="middle" textLength="89.5" lengthAdjust="spacingAndGlyphs" transform="translate(293.20,390.60) rotate(-90)">Meters Below Sea Level</text>
<text x="363.90" y="492.90" font-size="12.00" fill="#262626" stroke="#262626" stroke-width="0.10" textLength="99.1" lengthAdjust="spacingAndGlyphs">IV. Georgia-Florida</text>
<text x="46.30" y="180.00" font-size="8.30" fill="#404040" stroke="#404040" stroke-width="0.30" textLength="52.7" lengthAdjust="spacingAndGlyphs">Yellow = shell</text>
<text x="46.30" y="191.30" font-size="8.30" fill="#404040" stroke="#404040" stroke-width="0.30" textLength="55.3" lengthAdjust="spacingAndGlyphs">Orange = peat</text>
<line x1="17.3" y1="516.7" x2="50.9" y2="516.7" stroke="#d40000" stroke-width="2.5"/>
<text x="58.50" y="520.80" font-size="10.60" fill="#262626" stroke="#262626" stroke-width="0.10" textLength="110.5" lengthAdjust="spacingAndGlyphs">Hawkes et al. (2016)</text>
<line x1="176.6" y1="516.7" x2="209.4" y2="516.7" stroke="#000" stroke-width="2.5"/>
<text x="215.90" y="520.80" font-size="10.60" fill="#262626" stroke="#262626" stroke-width="0.10" textLength="95.5" lengthAdjust="spacingAndGlyphs">Kopp et al. (2015)</text>
<line x1="318.0" y1="516.7" x2="350.0" y2="516.7" stroke="#00b050" stroke-width="2.5"/>
<text x="355.90" y="520.80" font-size="10.60" fill="#262626" stroke="#262626" stroke-width="0.10" textLength="165.9" lengthAdjust="spacingAndGlyphs">Toscano and Macintyre (2003)</text>
</svg></body></html>
